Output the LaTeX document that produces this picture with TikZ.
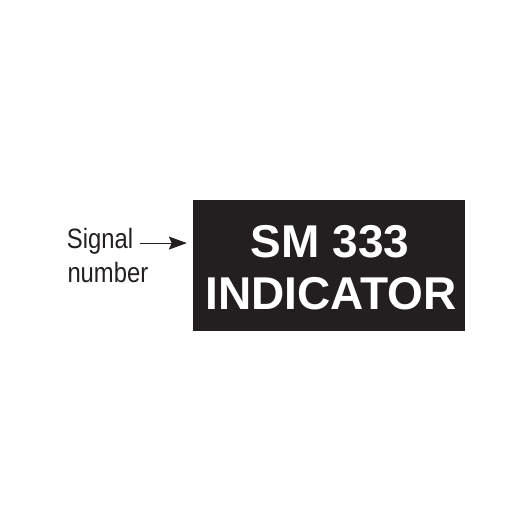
\documentclass[tikz,border=0pt]{standalone}
\usepackage{fontspec}
\usetikzlibrary{arrows.meta}
\newfontfamily\labelfont[FakeStretch=0.85]{Liberation Sans}
\newfontfamily\signfont{Liberation Sans}
\definecolor{signblack}{HTML}{231F20}
\begin{document}
\begin{tikzpicture}[x=1pt,y=-1pt,
    signbox/.style={fill=signblack,draw=none,minimum width=272pt,minimum height=131pt,inner sep=0pt},
    signtext/.style={white,anchor=base,inner sep=0pt,font=\signfont\bfseries\fontsize{46}{52}\selectfont},
    labeltext/.style={signblack,anchor=base west,inner sep=0pt,font=\labelfont\fontsize{28}{34}\selectfont},
    labelarrow/.style={signblack,line width=0.8pt,-{Stealth[length=18pt,width=13pt,inset=3pt]}}]
        \useasboundingbox (0,0) rectangle (531,531);
        \node[signbox] (box) at (329,265.5) {};
        \node[signtext] (sm) at (330,257.7) {SM 333};
        \node[signtext] (ind) at (331,309.3) {INDICATOR};
        \node[labeltext] (sig) at (66.7,248.3) {Signal};
        \node[labeltext] (num) at (67.3,282.7) {number};
        \draw[labelarrow] ([xshift=7pt,yshift=-2pt]sig.east) -- ([xshift=-6pt,yshift=-2pt]sig.east -| box.west);
    \end{tikzpicture}
\end{document}
